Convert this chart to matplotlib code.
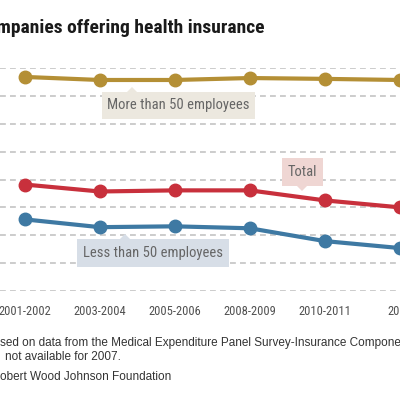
import matplotlib
matplotlib.use("Agg")
import matplotlib.pyplot as plt
from matplotlib.patches import Polygon

years = ["2001-2002", "2003-2004", "2005-2006", "2008-2009", "2010-2011", "2012"]
more_than_50 = [96.8, 95.7, 95.7, 96.4, 96.1, 95.7]
total = [58.2, 55.7, 56.1, 56.1, 52.5, 50.0]
less_than_50 = [45.7, 42.9, 43.2, 42.5, 37.9, 35.4]
grid_values = [20, 30, 40, 50, 60, 70, 80, 90, 100]

NARROW = ['Liberation Sans Narrow', 'DejaVu Sans Condensed', 'Roboto Condensed', 'DejaVu Sans']
plt.rcParams['font.family'] = ['Liberation Sans', 'DejaVu Sans']

W = H = 400
fig = plt.figure(figsize=(4, 4), dpi=100)
fig.patch.set_facecolor('white')

def fx(px):
    return px / W

def fy(py):
    return 1 - py / H

spacing = 76.3
x0 = 25
ax = fig.add_axes([0, fy(291), 1, fy(68) - fy(291)])
ax.set_xlim(-x0 / spacing, (W - x0) / spacing)
ax.set_ylim(20, 100)
for s in ax.spines.values():
    s.set_visible(False)
ax.set_yticks([])
for g in grid_values:
    ax.axhline(g, color='#c4c4c4', lw=1.2, ls=(0, (3.5, 2.5)), zorder=1)

xs = list(range(len(years)))
ax.plot(xs, more_than_50, color='#b48f35', lw=3, marker='o', ms=9, zorder=3, clip_on=False)
ax.plot(xs, total, color='#c8303c', lw=3, marker='o', ms=9, zorder=3, clip_on=False)
ax.plot(xs, less_than_50, color='#3e79a3', lw=3, marker='o', ms=9, zorder=3, clip_on=False)

ax.set_xticks(xs)
ax.set_xticklabels(years, family=NARROW, fontsize=9, color='#505050')
ax.tick_params(axis='x', length=0, pad=10)

# Title (cropped at the left edge)
fig.text(fx(265), fy(28), "Percent of companies offering health insurance", ha='right', va='center',
         family=NARROW, fontsize=14, fontweight='bold', color='#1a1a1a')

def label(text, x1, x2, y1, y2, face, ptr_x, up):
    fig.patches.append(Polygon([[fx(x1), fy(y1)], [fx(x2), fy(y1)], [fx(x2), fy(y2)], [fx(x1), fy(y2)]],
                               closed=True, transform=fig.transFigure, facecolor=face, edgecolor='none', zorder=2))
    if up:
        tri = [[fx(ptr_x - 5), fy(y1)], [fx(ptr_x + 5), fy(y1)], [fx(ptr_x), fy(y1 - 5)]]
    else:
        tri = [[fx(ptr_x - 5), fy(y2)], [fx(ptr_x + 5), fy(y2)], [fx(ptr_x), fy(y2 + 5)]]
    fig.patches.append(Polygon(tri, closed=True, transform=fig.transFigure, facecolor=face,
                               edgecolor='none', zorder=2))
    fig.text(fx((x1 + x2) / 2), fy((y1 + y2) / 2), text, ha='center', va='center',
             family=NARROW, fontsize=10.5, color='#666666', zorder=4)

label("More than 50 employees", 102, 255, 92, 119, '#ece8df', 132, True)
label("Total", 282, 323, 158, 186, '#efd6d3', 302, False)
label("Less than 50 employees", 77, 229, 239, 267, '#d7dee7', 125, True)

fig.text(fx(0), fy(343), "sed on data from the Medical Expenditure Panel Survey-Insurance Component.",
         ha='left', va='center', fontsize=8.5, color='#333333')
fig.text(fx(5), fy(357), "not available for 2007.", ha='left', va='center', fontsize=8.5, color='#333333')
fig.text(fx(0), fy(377), "obert Wood Johnson Foundation", ha='left', va='center', fontsize=8.5, color='#333333')

fig.savefig("out.png", dpi=100)
